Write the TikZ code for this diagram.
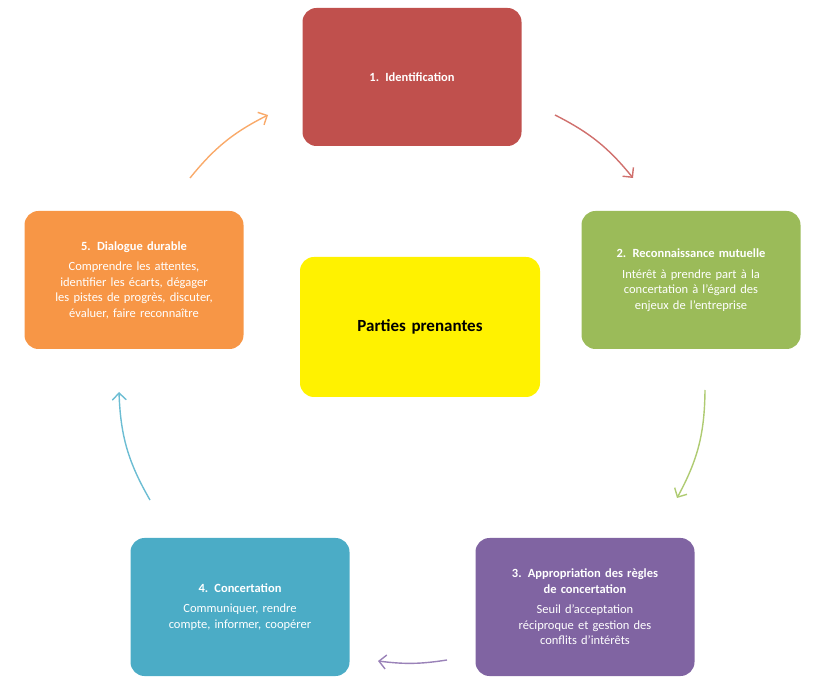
\documentclass[tikz,border=0pt]{standalone}
\usepackage{fontspec}
\setmainfont{Carlito}
\usetikzlibrary{arrows.meta}
\definecolor{cred}{HTML}{C0504D}
\definecolor{cgreen}{HTML}{9BBB59}
\definecolor{cpurple}{HTML}{8064A2}
\definecolor{cblue}{HTML}{4BACC6}
\definecolor{corange}{HTML}{F79646}
\definecolor{ared}{HTML}{D0706D}
\definecolor{agreen}{HTML}{AFCB72}
\definecolor{apurple}{HTML}{9A82B8}
\definecolor{ablue}{HTML}{6CBDD3}
\definecolor{aorange}{HTML}{F9AA6A}
\begin{document}
\begin{tikzpicture}[x=1pt,y=-1pt,
 box/.style={rounded corners=14pt,minimum width=219pt,minimum height=138pt,text width=200pt,align=center,text=white,font=\fontsize{12.5}{15.5}\selectfont,inner sep=0pt},
 arr/.style={line width=1.4pt,-{Straight Barb[length=7pt,width=14pt,line width=1.4pt]}}]
\useasboundingbox (0,0) rectangle (820,700);
\node[box,fill=cred] (b1) at (412,77) {\textbf{1. Identification}};
\node[box,fill=cgreen] (b2) at (691,280) {\textbf{2. Reconnaissance mutuelle}\\[5pt]Intérêt à prendre part à la\\concertation à l'égard des\\enjeux de l'entreprise};
\node[box,fill=cpurple] (b3) at (585,607) {\textbf{3. Appropriation\ des règles}\\\textbf{de concertation}\\[5pt]Seuil d'acceptation\\réciproque et gestion des\\conflits d'intérêts};
\node[box,fill=cblue] (b4) at (240,607) {\textbf{4. Concertation}\\[5pt]Communiquer, rendre\\compte, informer, coopérer};
\node[box,fill=corange] (b5) at (134,280) {\textbf{5. Dialogue durable}\\[5pt]Comprendre les attentes,\\identifier les écarts, dégager\\les pistes de progrès, discuter,\\évaluer, faire reconnaître};
\node[box,fill=yellow,minimum width=240pt,minimum height=140pt,text=black,font=\fontsize{17}{20}\selectfont\bfseries] (c) at (420,327) {Parties prenantes};
\coordinate (a1s) at (555,115); \coordinate (a1e) at (633,178);
\coordinate (a2s) at (705,390); \coordinate (a2e) at (677,498);
\coordinate (a3s) at (447,660); \coordinate (a3e) at (378,661);
\coordinate (a4s) at (150,500); \coordinate (a4e) at (119,392);
\coordinate (a5s) at (190,178); \coordinate (a5e) at (268,115);
\draw[arr,ared] (a1s) to[bend left=12] (a1e);
\draw[arr,agreen] (a2s) to[bend left=14] (a2e);
\draw[arr,apurple] (a3s) to[bend left=8] (a3e);
\draw[arr,ablue] (a4s) to[bend left=14] (a4e);
\draw[arr,aorange] (a5s) to[bend left=12] (a5e);
\end{tikzpicture}
\end{document}
